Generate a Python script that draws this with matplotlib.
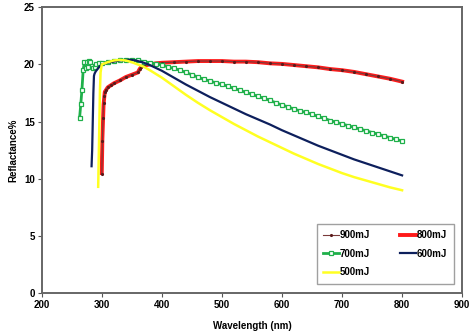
import matplotlib
matplotlib.use('Agg')
import matplotlib.pyplot as plt

plt.rcParams['font.family'] = ['Liberation Sans', 'DejaVu Sans']
plt.rcParams['font.weight'] = 'bold'

# 900mJ / 800mJ (almost identical curves)
wl_800 = [300, 301, 303, 305, 310, 320, 330, 340, 350, 360, 363, 366, 370, 380, 390, 400,
          420, 440, 460, 480, 500, 520, 540, 560, 580, 600, 620, 640, 660, 680, 700,
          720, 740, 760, 780, 800]
r_800 = [10.5, 13.5, 16.5, 17.6, 18.0, 18.35, 18.6, 18.9, 19.1, 19.3, 19.6, 19.8, 19.9, 20.0, 20.1, 20.15,
         20.2, 20.25, 20.3, 20.3, 20.3, 20.25, 20.25, 20.2, 20.1, 20.05, 19.95, 19.85, 19.75, 19.6, 19.5,
         19.35, 19.15, 18.95, 18.75, 18.5]
wl_900 = [300, 301, 302, 303, 304, 305, 307, 310, 315, 320, 330, 340, 350, 360, 363, 366, 370,
          380, 390, 400, 420, 440, 460, 480, 500, 520, 540, 560, 580, 600, 620, 640, 660,
          680, 700, 720, 740, 760, 780, 800]
r_900 = [10.4, 13.3, 15.3, 16.6, 17.2, 17.6, 17.8, 18.0, 18.2, 18.35, 18.6, 18.9, 19.1, 19.3, 19.6, 19.8, 19.9,
         20.0, 20.1, 20.15, 20.2, 20.25, 20.3, 20.3, 20.3, 20.25, 20.25, 20.2, 20.1, 20.05, 19.95, 19.85, 19.75,
         19.6, 19.5, 19.35, 19.15, 18.95, 18.75, 18.5]

# 700mJ
wl_700 = [263, 265, 267, 269, 271, 273, 275, 277, 279, 281, 283, 285, 288, 291, 295, 300,
          310, 320, 330, 340, 350, 360, 370, 380, 390, 400, 410, 420, 430, 440, 450, 460,
          470, 480, 490, 500, 510, 520, 530, 540, 550, 560, 570, 580, 590, 600, 610, 620,
          630, 640, 650, 660, 670, 680, 690, 700, 710, 720, 730, 740, 750, 760, 770, 780,
          790, 800]
r_700 = [15.3, 16.5, 17.8, 19.5, 20.2, 19.7, 20.2, 19.8, 20.3, 20.2, 19.9, 19.7, 19.8, 20.0, 20.1, 20.1,
         20.2, 20.3, 20.35, 20.4, 20.4, 20.35, 20.25, 20.15, 20.05, 19.95, 19.8, 19.65, 19.5, 19.3, 19.1, 18.9,
         18.7, 18.55, 18.4, 18.25, 18.1, 17.9, 17.75, 17.55, 17.4, 17.2, 17.05, 16.85, 16.65, 16.45, 16.3, 16.1,
         15.95, 15.8, 15.65, 15.45, 15.3, 15.1, 14.95, 14.8, 14.65, 14.5, 14.35, 14.2, 14.05, 13.9, 13.75, 13.6,
         13.45, 13.3]

# 600mJ
wl_600 = [283, 284, 285, 286, 287, 288, 290, 293, 296, 300, 310, 320, 330, 340, 350, 360, 370,
          380, 400, 420, 440, 460, 480, 500, 520, 540, 560, 580, 600, 620, 640, 660, 680,
          700, 720, 740, 760, 780, 800]
r_600 = [11.1, 12.5, 15.0, 17.5, 19.0, 19.2, 19.4, 19.6, 19.8, 20.0, 20.15, 20.25, 20.35, 20.4, 20.4, 20.3, 20.15,
         19.95, 19.45, 18.85, 18.25, 17.7, 17.15, 16.65, 16.15, 15.65, 15.2, 14.75, 14.25, 13.8, 13.35, 12.9, 12.5,
         12.1, 11.7, 11.35, 11.0, 10.65, 10.3]

# 500mJ
wl_500 = [294, 295, 296, 297, 298, 300, 305, 310, 320, 330, 340, 350, 360, 370, 380, 400,
          420, 440, 460, 480, 500, 520, 540, 560, 580, 600, 620, 640, 660, 680, 700, 720,
          740, 760, 780, 800]
r_500 = [9.3, 12.0, 15.0, 17.8, 19.3, 20.0, 20.1, 20.2, 20.35, 20.4, 20.35, 20.2, 20.0, 19.8, 19.5, 18.85,
         18.1, 17.35, 16.65, 16.0, 15.4, 14.8, 14.25, 13.7, 13.2, 12.7, 12.2, 11.75, 11.3, 10.9, 10.5, 10.15,
         9.85, 9.55, 9.25, 9.0]

fig = plt.figure(figsize=(4.74, 3.32), dpi=100)
ax = fig.add_axes([0.088, 0.117, 0.887, 0.861])

h800, = ax.plot(wl_800, r_800, color='#ff1a1a', lw=2.8, label='800mJ')
h900, = ax.plot(wl_900, r_900, color='#7a3a3a', lw=0.8, marker='.', markersize=2.5,
                markerfacecolor='#5a1a1a', markeredgecolor='#5a1a1a', label='900mJ')
h700, = ax.plot(wl_700, r_700, color='#1fb04a', lw=2.0, marker='s', markersize=3.3,
                markerfacecolor='white', markeredgecolor='#1fb04a', markeredgewidth=0.9, label='700mJ')
h600, = ax.plot(wl_600, r_600, color='#0d1f5c', lw=1.6, label='600mJ')
h500, = ax.plot(wl_500, r_500, color='#ffff22', lw=1.8, label='500mJ')

ax.set_xlim(200, 900)
ax.set_ylim(0, 25)
ax.set_xticks(range(200, 901, 100))
ax.set_yticks(range(0, 26, 5))
ax.tick_params(labelsize=7, length=3, width=0.8, color='#555555', pad=2)
for s in ax.spines.values():
    s.set_color('#666666')
    s.set_linewidth(1.4)

ax.set_xlabel('Wavelength (nm)', fontsize=7, fontweight='bold', labelpad=8)
ax.set_ylabel('Reflactance%', fontsize=7, fontweight='bold', labelpad=4)

leg = ax.legend(handles=[h900, h700, h500, h800, h600], ncol=2, loc='lower right',
                bbox_to_anchor=(0.981, 0.033), fontsize=7, frameon=True, fancybox=False,
                handlelength=1.6, handletextpad=0.1, columnspacing=3.1, labelspacing=0.85,
                borderpad=0.7, borderaxespad=0)
leg.get_frame().set_edgecolor('#888888')
leg.get_frame().set_linewidth(1.0)

plt.savefig('out.png', dpi=100)
